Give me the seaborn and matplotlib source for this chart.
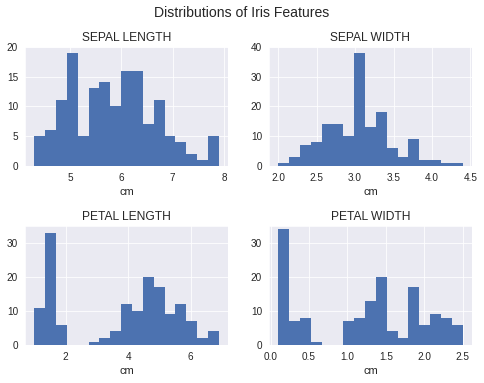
import numpy as np
import matplotlib
matplotlib.use("Agg")
import matplotlib.pyplot as plt
import seaborn as sns

# Histogram counts (17 equal-width bins per feature)
features = ["sepal length", "sepal width", "petal length", "petal width"]
ranges = {
    "sepal length": (4.3, 7.9),
    "sepal width": (2.0, 4.4),
    "petal length": (1.0, 6.9),
    "petal width": (0.1, 2.5),
}
sepal_length_counts = [5, 6, 11, 19, 5, 13, 14, 10, 16, 16, 7, 11, 5, 4, 2, 1, 5]
sepal_width_counts = [1, 3, 7, 8, 14, 14, 10, 38, 13, 18, 6, 3, 9, 2, 2, 1, 1]
petal_length_counts = [11, 33, 6, 0, 0, 1, 2, 4, 12, 10, 20, 17, 9, 12, 7, 2, 4]
petal_width_counts = [34, 7, 8, 1, 0, 0, 7, 8, 13, 20, 4, 2, 17, 6, 9, 8, 6]
counts = {
    "sepal length": sepal_length_counts,
    "sepal width": sepal_width_counts,
    "petal length": petal_length_counts,
    "petal width": petal_width_counts,
}
y_tops = {"sepal length": 20, "sepal width": 40, "petal length": 35, "petal width": 35}
x_ticks = {
    "sepal length": [5, 6, 7, 8],
    "sepal width": [2.0, 2.5, 3.0, 3.5, 4.0, 4.5],
    "petal length": [2, 4, 6],
    "petal width": [0.0, 0.5, 1.0, 1.5, 2.0, 2.5],
}

sns.set_style("darkgrid")
plt.rcParams["font.family"] = ["Liberation Sans", "DejaVu Sans"]
plt.rcParams["axes.titlesize"] = 12
plt.rcParams["axes.labelsize"] = 11
plt.rcParams["xtick.labelsize"] = 10
plt.rcParams["ytick.labelsize"] = 10

color = sns.color_palette("deep")[0]

fig, axes = plt.subplots(2, 2, figsize=(484 / 72, 383 / 72), dpi=72)
for ax, feat in zip(axes.flat, features):
    lo, hi = ranges[feat]
    c = counts[feat]
    edges = np.linspace(lo, hi, len(c) + 1)
    centers = (edges[:-1] + edges[1:]) / 2
    ax.hist(centers, bins=edges, weights=c, color=color, edgecolor="none")
    ax.set_title(feat.upper())
    ax.set_xlabel("cm")
    ax.set_xticks(x_ticks[feat])
    ax.set_ylim(0, y_tops[feat])

fig.suptitle("Distributions of Iris Features", fontsize=14, y=0.985)
fig.subplots_adjust(left=0.052, right=0.975, top=0.878, bottom=0.099,
                    wspace=0.202, hspace=0.504)
fig.savefig("out.png", dpi=72)
plt.close(fig)
